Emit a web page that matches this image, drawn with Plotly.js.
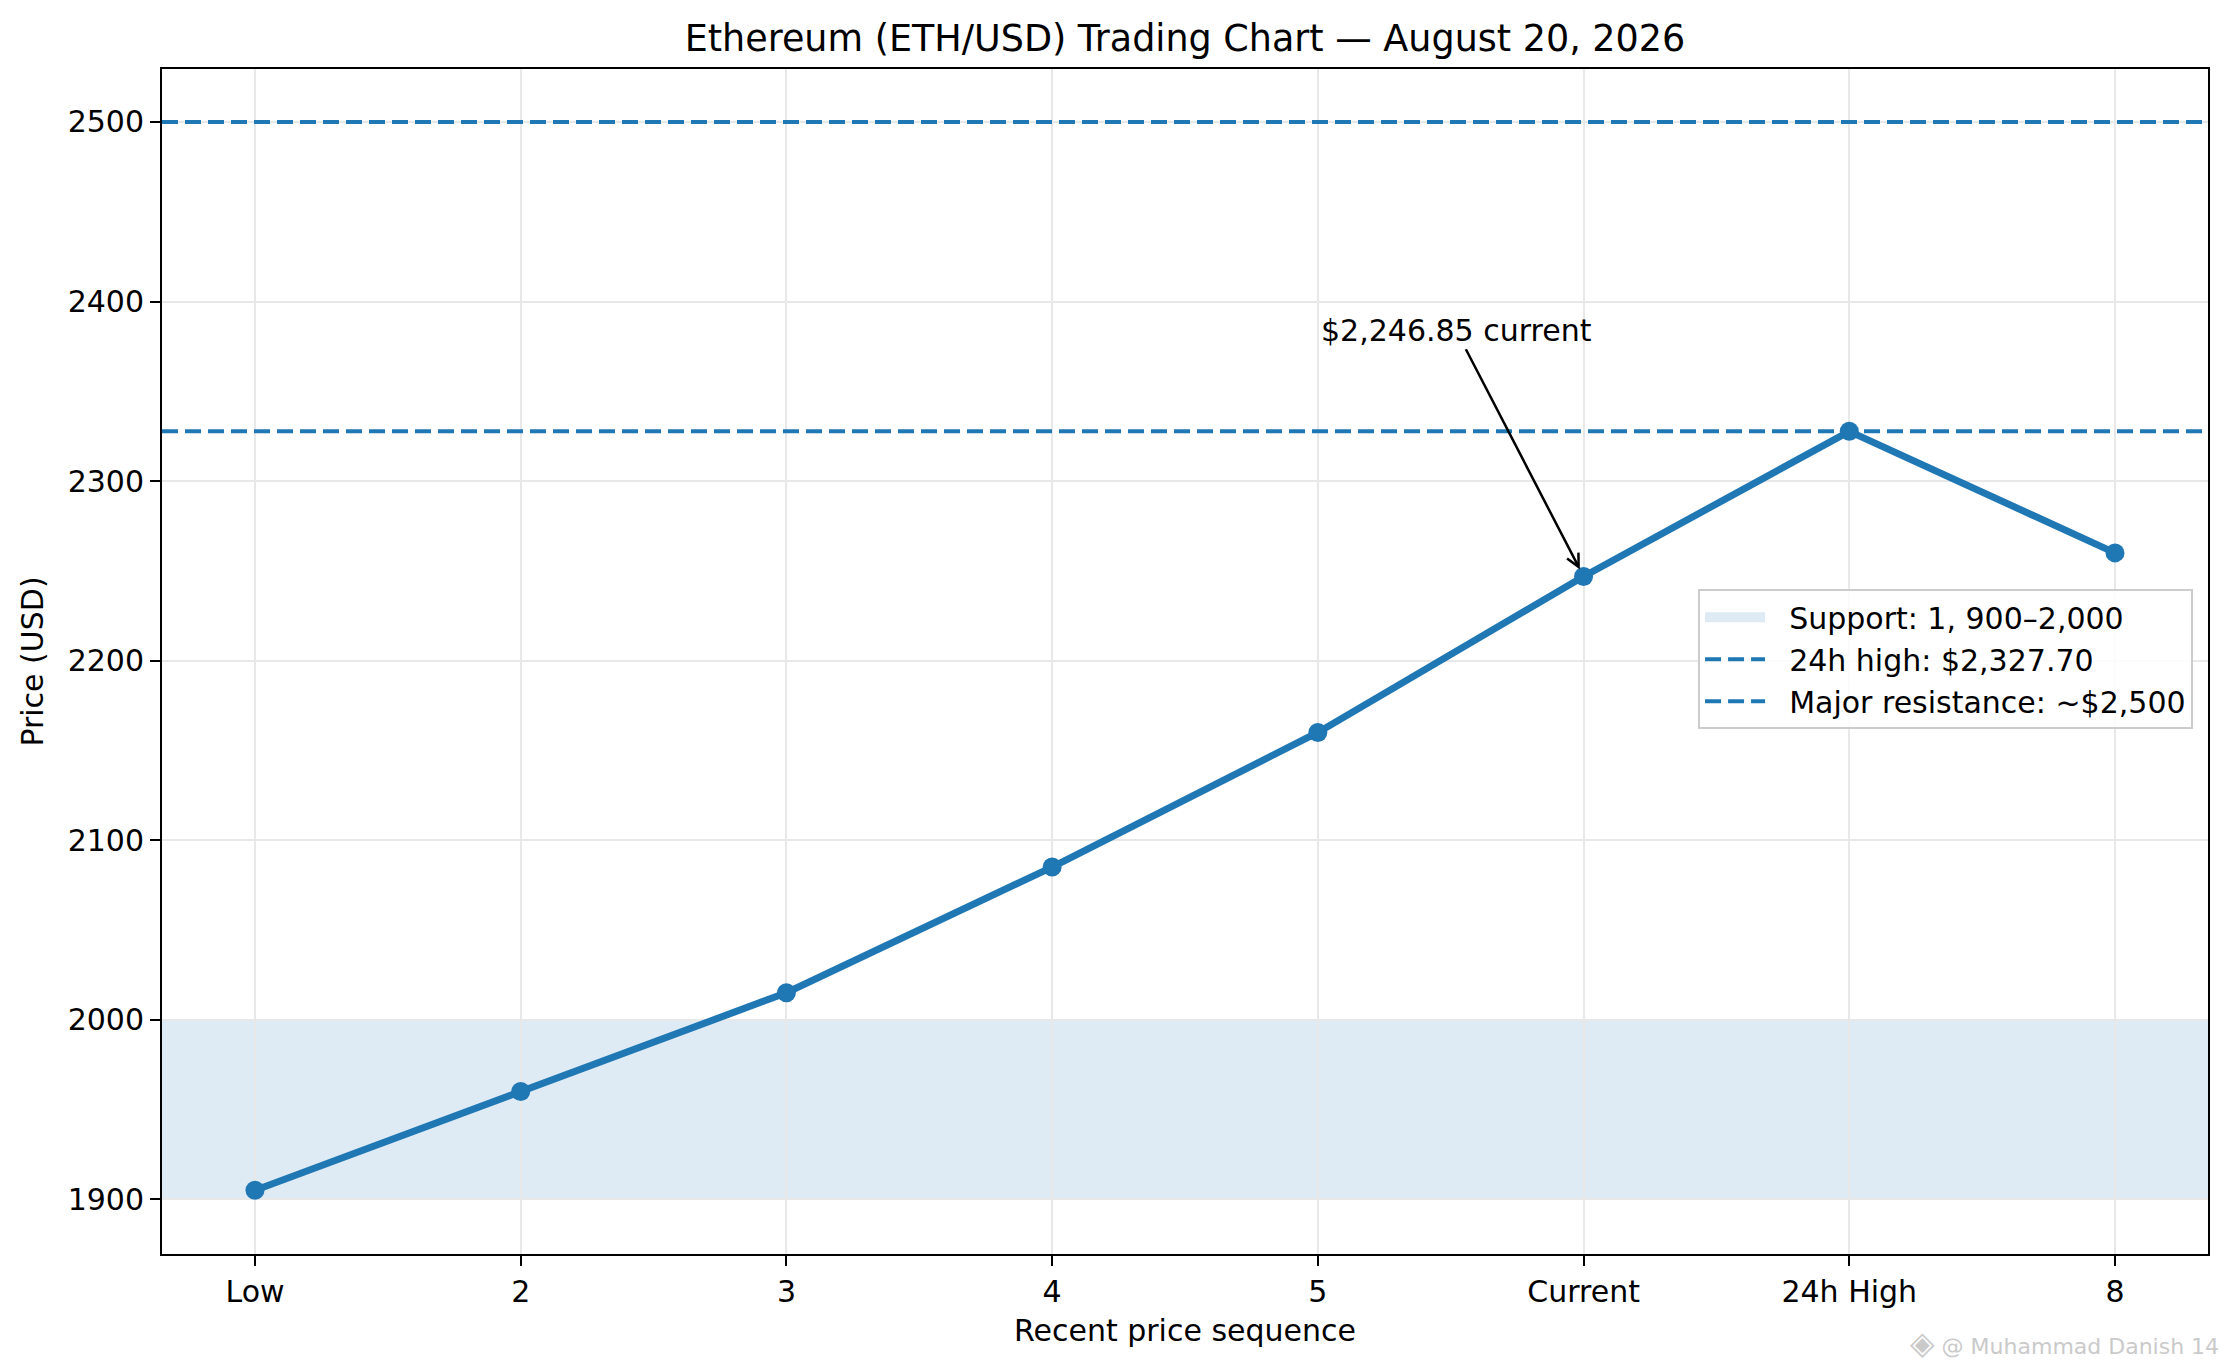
<!DOCTYPE html>
<html>
<head>
<meta charset="utf-8">
<script src="https://cdn.plot.ly/plotly-3.0.1.min.js"></script>
<style>
  html, body { margin: 0; padding: 0; background: #fff; }
  #chart { width: 2230px; height: 1368px; }
</style>
</head>
<body>
<div id="chart"></div>
<script>
// price sequence
var steps = ['Low', '2', '3', '4', '5', 'Current', '24h High', '8'];
var prices = [1905, 1960, 2015, 2085, 2160, 2246.85, 2327.70, 2260];

var supportLow = 1900;
var supportHigh = 2000;
var high24h = 2327.70;
var resistance = 2500;
var yTicks = [1900, 2000, 2100, 2200, 2300, 2400, 2500];

var labels = {
    title: 'Ethereum (ETH/USD) Trading Chart \u2014 August 20, 2026',
    xaxis: 'Recent price sequence',
    yaxis: 'Price (USD)',
    support: 'Support: 1, 900\u20132,000',
    high: '24h high: $2,327.70',
    resist: 'Major resistance: ~$2,500',
    current: '$2,246.85 current',
    mark: '@ Muhammad Danish 14'
};

var blue = '#1f77b4';
var bandFill = 'rgba(31,119,180,0.15)';
var font = 'DejaVu Sans, Verdana, sans-serif';
var gap = '\u00a0\u00a0';   // space between legend key and its text

var price = {
    x: steps,
    y: prices,
    type: 'scatter',
    mode: 'lines+markers',
    line: {color: blue, width: 7},
    marker: {color: blue, size: 19},
    showlegend: false,
    hoverinfo: 'skip'
};

// legend entry for the support band (the band itself is a shape)
var supportKey = {
    x: [null], y: [null],
    type: 'scatter', mode: 'lines',
    line: {color: bandFill, width: 20},
    name: gap + labels.support
};

var shapes = [
    {
        type: 'rect', xref: 'paper', x0: 0, x1: 1,
        yref: 'y', y0: supportLow, y1: supportHigh,
        fillcolor: bandFill, line: {width: 0},
        layer: 'below'
    },
    {
        type: 'line', xref: 'paper', x0: 0, x1: 1,
        yref: 'y', y0: high24h, y1: high24h,
        line: {color: blue, width: 4, dash: '16px,7px'},
        showlegend: true, name: gap + labels.high
    },
    {
        type: 'line', xref: 'paper', x0: 0, x1: 1,
        yref: 'y', y0: resistance, y1: resistance,
        line: {color: blue, width: 4, dash: '16px,7px'},
        showlegend: true, name: gap + labels.resist
    }
];

var plotL = 162, plotR = 2208, plotT = 69, plotB = 1254;

var layout = {
    width: 2230,
    height: 1368,
    paper_bgcolor: '#fff',
    plot_bgcolor: '#fff',
    font: {family: font, size: 30, color: '#000'},
    margin: {l: plotL, r: 2230 - plotR, t: plotT, b: 1368 - plotB},
    title: {
        text: labels.title,
        font: {size: 36.5, color: '#000'},
        x: 0.5, xref: 'paper', xanchor: 'center',
        y: 1 - 38 / 1368, yref: 'container', yanchor: 'middle'
    },
    xaxis: {
        type: 'category',
        range: [-0.35, steps.length - 1 + 0.35],
        showline: true, mirror: true, linecolor: '#000', linewidth: 2,
        ticks: 'outside', ticklen: 10, tickwidth: 2, tickcolor: '#000',
        showgrid: true, gridcolor: '#e8e8e8', gridwidth: 2,
        zeroline: false,
        title: {text: labels.xaxis, font: {size: 30}, standoff: 12},
        automargin: false
    },
    yaxis: {
        range: [1869.5, 2529.5],
        tickvals: yTicks,
        showline: true, mirror: true, linecolor: '#000', linewidth: 2,
        ticks: 'outside', ticklen: 10, tickwidth: 2, tickcolor: '#000',
        showgrid: true, gridcolor: '#e8e8e8', gridwidth: 2,
        zeroline: false,
        title: {text: labels.yaxis, font: {size: 30}, standoff: 15},
        automargin: false
    },
    shapes: shapes,
    legend: {
        x: 0.9927, xanchor: 'right', xref: 'paper',
        y: 0.561, yanchor: 'top', yref: 'paper',
        bgcolor: 'rgba(255,255,255,0.85)',
        bordercolor: '#cccccc', borderwidth: 2,
        font: {size: 30},
        itemwidth: 60
    },
    annotations: [
        {
            x: 'Current', y: prices[5], xref: 'x', yref: 'y',
            ax: 4.52, ay: 2384, axref: 'x', ayref: 'y',
            text: labels.current,
            font: {size: 30},
            showarrow: true, arrowhead: 5, arrowsize: 1, arrowwidth: 2.5,
            arrowcolor: '#000', standoff: 8
        },
        {
            // watermark in the bottom right corner of the page
            x: (2221 - plotL) / (plotR - plotL),
            y: 1 - (1343 - plotT) / (plotB - plotT),
            xref: 'paper', yref: 'paper',
            xanchor: 'right', yanchor: 'middle',
            text: '<span style="font-size:32px">\u25C8</span> ' + labels.mark,
            showarrow: false,
            font: {size: 22, color: '#cacaca'}
        }
    ]
};

Plotly.newPlot('chart', [price, supportKey], layout, {displayModeBar: false, staticPlot: true});
</script>
</body>
</html>
